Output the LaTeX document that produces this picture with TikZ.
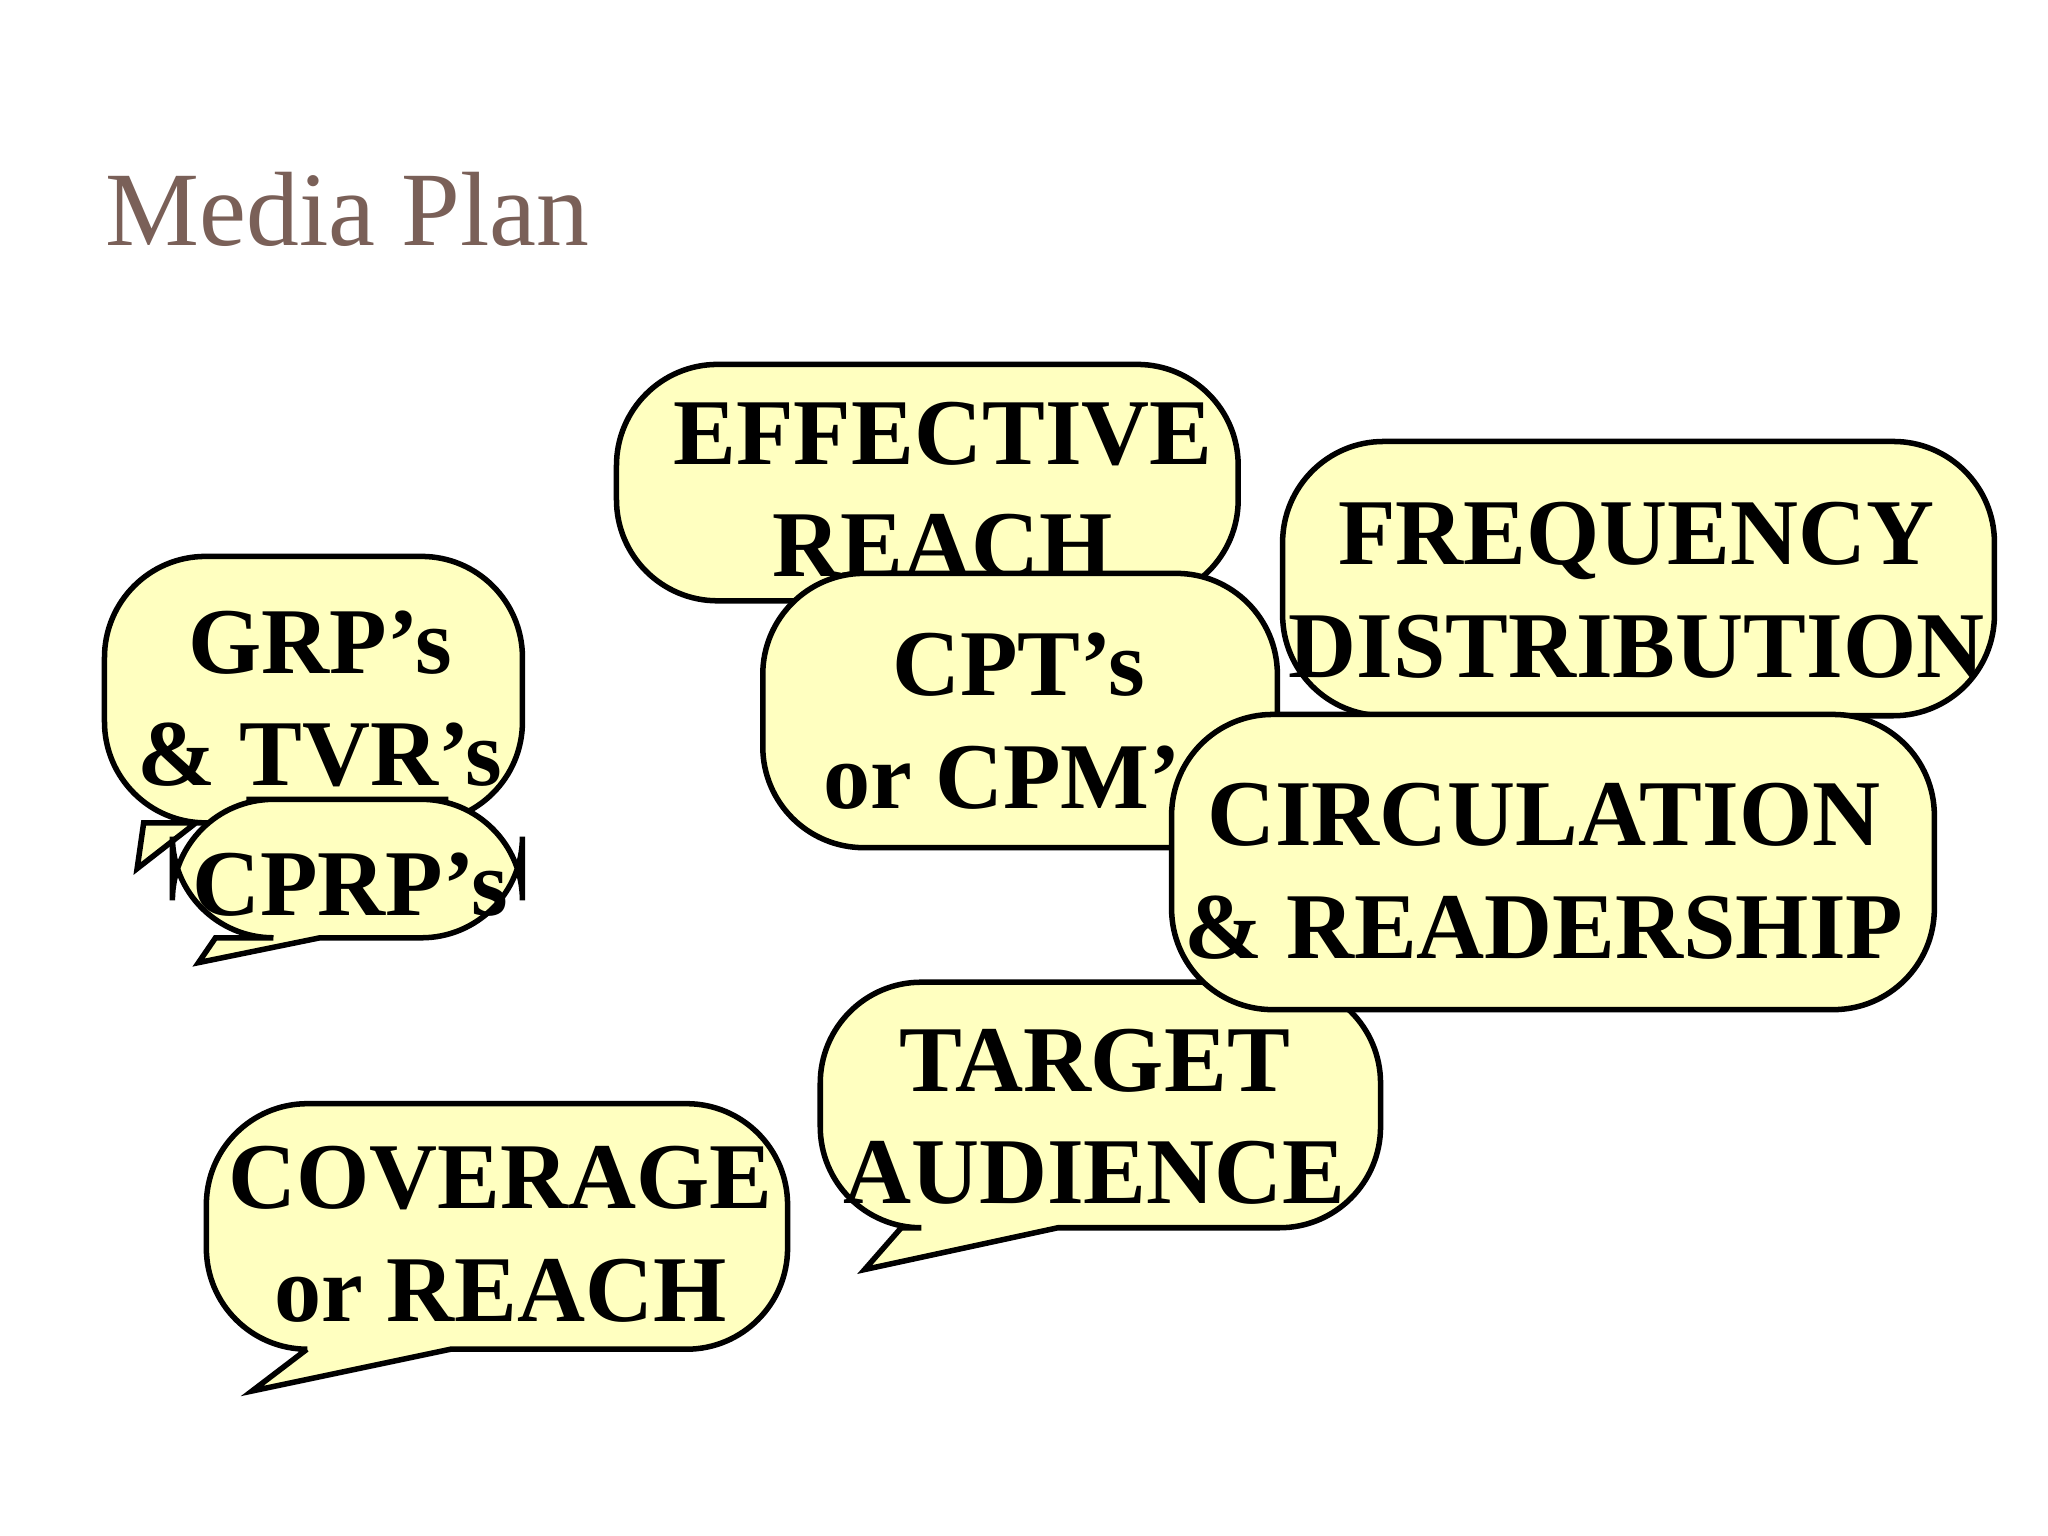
\documentclass[tikz,border=0pt]{standalone}
\usepackage{fontspec}
\setmainfont{Liberation Serif}
\definecolor{bubfill}{HTML}{FFFFC0}
\definecolor{titlec}{HTML}{7A6058}
\tikzset{bub/.style={draw=black,fill=bubfill,line width=1.2pt},
 btxt/.style={font=\fontsize{20.5}{24.5}\selectfont\bfseries,align=center,inner sep=0pt}}
\newcommand{\bubtail}[8]{% x1 y1 x2 y2 t1 tipx tipy t2
 \draw[bub] ({(#1+#3)/2},#2) [rounded corners=22] -- (#3,#2) -- (#3,#4) [sharp corners] -- (#8,#4) -- (#6,#7) -- (#5,#4) [rounded corners=22] -- (#1,#4) -- (#1,#2) -- cycle;}
\newcommand{\bubplain}[4]{\draw[bub,rounded corners=22] (#1,#2) rectangle (#3,#4);}
\begin{document}
\begin{tikzpicture}[x=0.01cm,y=-0.01cm]
\useasboundingbox[fill=white] (0,0) rectangle (1568,1176);
\node[anchor=west,text=titlec,font=\fontsize{23}{27}\selectfont,inner sep=0pt] (title) at (80,160) {Media Plan};
\bubtail{80}{426}{400}{630}{110}{105}{665}{150}
\node[btxt] (grp) at (245,535) {GRP’s\\ \& TVR’s};
\bubtail{132}{612}{400}{718}{165}{152}{737}{245}
\node[btxt] (cprp) at (268,677) {CPRP’s};
\bubplain{472}{279}{948}{460}
\node[btxt] (eff) at (722,375) {EFFECTIVE\\REACH};
\bubplain{584}{439}{978}{649}
\node[btxt] (cpt) at (780,552) {CPT’s\\or CPM’s};
\bubplain{982}{338}{1527}{548}
\node[btxt] (freq) at (1253,452) {FREQUENCY\\DISTRIBUTION};
\bubtail{628}{752}{1057}{940}{690}{662}{972}{810}
\node[btxt] (target) at (838,855) {TARGET\\AUDIENCE};
\bubplain{897}{547}{1481}{773}
\node[btxt] (circ) at (1182,667) {CIRCULATION\\\& READERSHIP};
\bubtail{158}{845}{603}{1033}{235}{193}{1065}{345}
\node[btxt] (cov) at (383,945) {COVERAGE\\or REACH};
\end{tikzpicture}
\end{document}
